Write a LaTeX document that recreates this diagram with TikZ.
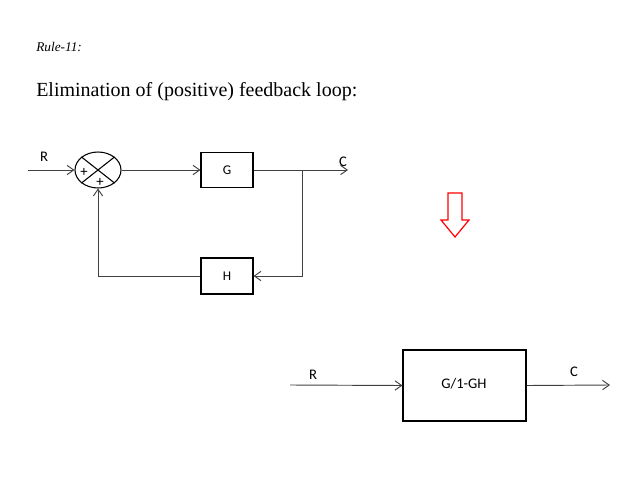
\documentclass[tikz,border=0pt]{standalone}
\usepackage{fontspec}
\usetikzlibrary{shapes.geometric,arrows.meta}
\setmainfont{Carlito}
\newfontfamily\tnr{Liberation Serif}
\begin{document}
\begin{tikzpicture}[x=0.75pt,y=-0.75pt,
  blk/.style={draw,thick,minimum width=52*0.75pt,minimum height=35*0.75pt,inner sep=0pt},
  ln/.style={draw=black!75,line width=0.7pt},
  arr/.style={ln,-{Straight Barb[length=5pt,width=7pt]}},
  lbl/.style={font=\fontsize{11}{13}\selectfont,inner sep=0pt}]
\useasboundingbox (0,0) rectangle (638,478);
\node[anchor=west,inner sep=0pt,font=\tnr\itshape\fontsize{10}{12}\selectfont] (rule) at (36,47) {Rule-11:};
\node[anchor=west,inner sep=0pt,font=\tnr\fontsize{15}{18}\selectfont] (title) at (36,92) {Elimination of (positive) feedback loop:};
% summing junction
\node[draw,thick,ellipse,minimum width=46*0.75pt,minimum height=36*0.75pt,inner sep=0pt] (sum) at (98,170) {};
\draw[thick] (sum.north west) -- (sum.south east) (sum.north east) -- (sum.south west);
\node[lbl] (p1) at (84,172) {+};
\node[lbl] (p2) at (100,182) {+};
\coordinate (rin) at (28,170);
\draw[arr] (rin) -- (sum.west);
\node[lbl] (R1) at (44,157) {R};
\node[blk] (G) at (227,170) {G};
\node[blk,minimum height=36*0.75pt] (H) at (227,276) {H};
\draw[arr] (sum.east) -- (G.west);
\coordinate (br) at (302,170);
\coordinate (cout) at (348,170);
\draw[arr] (G.east) -- (cout);
\node[lbl] (C1) at (343,162) {C};
\draw[arr] (br) |- (H.east);
\coordinate (fb) at (98,276);
\draw[arr] (H.west) -- (fb) -- (sum.south);
% red arrow
\draw[red,line width=0.9pt] (448,193) -- (462,193) -- (462,220) -- (469,220) -- (455,237) -- (441,220) -- (448,220) -- cycle;
% result
\node[draw,thick,minimum width=123*0.75pt,minimum height=71*0.75pt,inner sep=0pt] (GH) at (464.5,385.5) {};
\node[lbl] (GHt) at (464,384) {G/1-GH};
\coordinate (r2) at (290,385);
\coordinate (c2) at (610,385);
\draw[arr] (r2) -- (GH.west);
\draw[arr] (GH.east) -- (c2);
\node[lbl] (R2) at (313,375) {R};
\node[lbl] (C2) at (574,372) {C};
\end{tikzpicture}
\end{document}
